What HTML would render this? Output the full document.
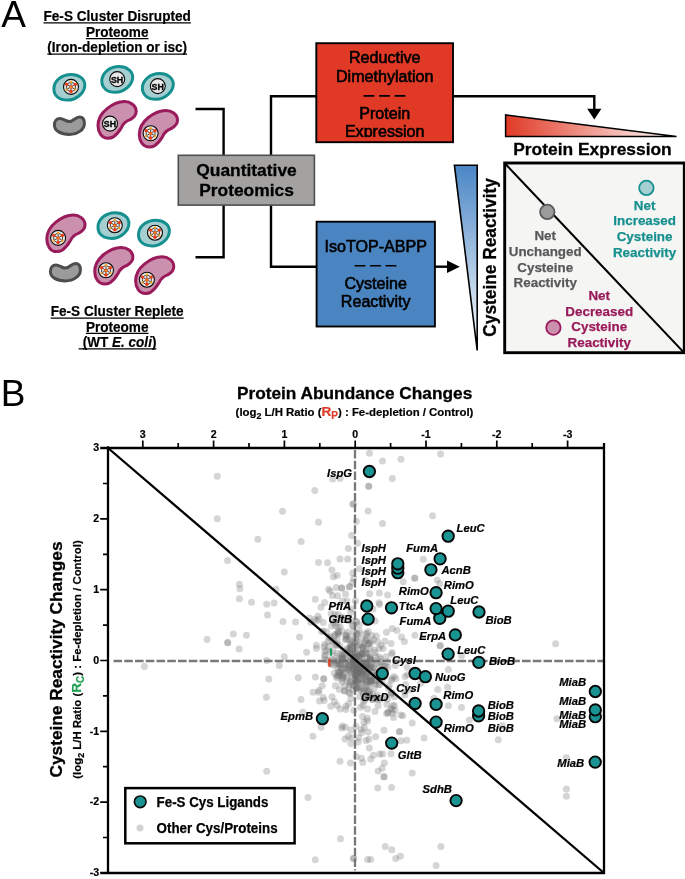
<!DOCTYPE html>
<html><head><meta charset="utf-8"><title>Figure</title>
<style>html,body{margin:0;padding:0;background:#fff}svg{display:block}</style></head>
<body>
<svg width="685" height="879" viewBox="0 0 685 879" font-family="'Liberation Sans', Arial, Helvetica, sans-serif">
<defs>
<linearGradient id="gr" x1="0" y1="0" x2="1" y2="0"><stop offset="0" stop-color="#e03a26"/><stop offset="1" stop-color="#ffffff"/></linearGradient>
<linearGradient id="gb" x1="0" y1="0" x2="0" y2="1"><stop offset="0" stop-color="#4a86c5"/><stop offset="1" stop-color="#ffffff"/></linearGradient>
<g id="fes">
<circle r="7.5" fill="#e8e8e8" stroke="#0a0a0a" stroke-width="1.1"/>
<g stroke="#111" stroke-width="0.75" fill="none">
<path d="M0 -5 L4.4 -2.6 L4.4 2.6 L0 5.1 L-4.4 2.6 L-4.4 -2.6 Z"/>
<path d="M0 -5 L0 5.1 M4.4 -2.6 L-4.4 2.6 M-4.4 -2.6 L4.4 2.6"/>
</g>
<circle cx="-4.4" cy="-2.6" r="1.65" fill="#ee3b14"/><circle cx="4.4" cy="-2.6" r="1.65" fill="#ee3b14"/><circle cx="0" cy="4.6" r="1.75" fill="#ee3b14"/>
<circle cx="0" cy="-5" r="1.2" fill="#f6a21c"/><circle cx="-4.4" cy="2.8" r="1.15" fill="#f6a21c"/><circle cx="4.4" cy="2.8" r="1.15" fill="#f6a21c"/>
<circle cx="0" cy="0.2" r="1.75" fill="#f2561b"/><circle cx="0" cy="0.5" r="0.8" fill="#f6a21c"/>
</g>
<g id="sh">
<circle r="7.5" fill="#e8e8e8" stroke="#0a0a0a" stroke-width="1.1"/>
<text x="-0.1" y="3.5" font-size="8.9" font-weight="bold" text-anchor="middle" fill="#000" stroke="#000" stroke-width="0.3" textLength="12.3" lengthAdjust="spacingAndGlyphs">SH</text>
</g>
<path id="bean" d="M29.4 1.4 C35 1.4 41.1 5 41.1 11.3 C41.1 15 38.5 17.5 35 19.5 C30.5 21 28 23.5 26.4 27.2 C24.5 30.5 22.5 33.8 18.2 36.7 C16.5 37.7 14.5 38 12.8 38 C6.5 38 2.9 32 2.9 25.4 C2.9 18 7 12.5 12 8.5 C17 4.5 23 1.4 29.4 1.4 Z"/>
<path id="gbean" d="M7 3 C10.5 3 12.5 6.2 16.5 6.2 C20.5 6.2 22.5 1.5 26.5 1.5 C30 1.5 31.5 4.5 31.5 8 C31.5 14 25 19 16.5 19 C8 19 1.5 15.5 1.5 9.5 C1.5 5.5 3.8 3 7 3 Z"/>
<path id="egg" d="M18.8 1.5 C26.3 1.5 32.4 6 32.4 12 C32.4 20 24 27.2 15 27.2 C7 27.2 1.5 23 1.5 16 C1.5 8 9.2 1.5 18.8 1.5 Z"/>
</defs>
<rect width="685" height="879" fill="#fff"/>
<text x="1.3" y="26.7" font-size="37">A</text>
<text x="117.2" y="21.0" font-size="14.1" font-weight="bold" text-anchor="middle" stroke="#000" stroke-width="0.2" textLength="147.4" lengthAdjust="spacingAndGlyphs">Fe-S Cluster Disrupted</text>
<path d="M43.5 22.9 H190.9" stroke="#000" stroke-width="1.25"/>
<text x="117.2" y="36.5" font-size="14.1" font-weight="bold" text-anchor="middle" stroke="#000" stroke-width="0.2" textLength="62.6" lengthAdjust="spacingAndGlyphs">Proteome</text>
<path d="M85.9 38.5 H148.5" stroke="#000" stroke-width="1.25"/>
<text x="117.2" y="52.0" font-size="14.1" font-weight="bold" text-anchor="middle" stroke="#000" stroke-width="0.2" textLength="139.8" lengthAdjust="spacingAndGlyphs">(Iron-depletion or isc)</text>
<path d="M47.3 54.0 H187.1" stroke="#000" stroke-width="1.25"/>
<text x="117.2" y="316.1" font-size="14.1" font-weight="bold" text-anchor="middle" stroke="#000" stroke-width="0.2" textLength="133" lengthAdjust="spacingAndGlyphs">Fe-S Cluster Replete</text>
<path d="M50.7 318.1 H183.7" stroke="#000" stroke-width="1.25"/>
<text x="117.2" y="331.5" font-size="14.1" font-weight="bold" text-anchor="middle" stroke="#000" stroke-width="0.2" textLength="62.6" lengthAdjust="spacingAndGlyphs">Proteome</text>
<path d="M85.9 333.4 H148.5" stroke="#000" stroke-width="1.25"/>
<text x="119.60000000000001" y="346.9" font-size="14.1" font-weight="bold" text-anchor="middle" stroke="#000" stroke-width="0.2" textLength="73.6" lengthAdjust="spacingAndGlyphs">(WT <tspan font-style="italic">E. coli</tspan>)</text>
<path d="M82.8 348.9 H156.4" stroke="#000" stroke-width="1.25"/>
<path d="M78.6 348.85 H84" stroke="#000" stroke-width="1.25"/>
<use href="#egg" x="52.4" y="72.9" fill="#a6cfd1" stroke="#16908f" stroke-width="3"/>
<use href="#fes" x="71.0" y="86.9"/>
<use href="#egg" x="100.3" y="65.1" fill="#a6cfd1" stroke="#16908f" stroke-width="3"/>
<use href="#sh" x="117.19999999999999" y="79.1"/>
<use href="#egg" x="140.9" y="72.1" fill="#a6cfd1" stroke="#16908f" stroke-width="3"/>
<use href="#sh" x="157.8" y="86.1"/>
<use href="#gbean" x="52.9" y="115.4" fill="#9b9b9b" stroke="#4d4d4d" stroke-width="3"/>
<use href="#bean" x="95.1" y="100.2" fill="#cc90af" stroke="#9a1b5b" stroke-width="3"/>
<use href="#sh" x="110.0" y="123.6"/>
<use href="#bean" x="136.4" y="109" fill="#cc90af" stroke="#9a1b5b" stroke-width="3"/>
<use href="#fes" x="150.6" y="133.3"/>
<use href="#bean" x="43.9" y="213.6" fill="#cc90af" stroke="#9a1b5b" stroke-width="3"/>
<use href="#fes" x="58.099999999999994" y="237.9"/>
<use href="#egg" x="96.5" y="211.2" fill="#a6cfd1" stroke="#16908f" stroke-width="3"/>
<use href="#fes" x="114.8" y="225.2"/>
<use href="#egg" x="137" y="218.7" fill="#a6cfd1" stroke="#16908f" stroke-width="3"/>
<use href="#fes" x="155" y="232.7"/>
<use href="#gbean" x="48.9" y="261.9" fill="#9b9b9b" stroke="#4d4d4d" stroke-width="3"/>
<use href="#bean" x="91.8" y="246" fill="#cc90af" stroke="#9a1b5b" stroke-width="3"/>
<use href="#fes" x="106.0" y="270.3"/>
<use href="#bean" x="132.7" y="255.4" fill="#cc90af" stroke="#9a1b5b" stroke-width="3"/>
<use href="#fes" x="146.89999999999998" y="279.7"/>
<g fill="none" stroke="#000" stroke-width="2.4">
<path d="M195.5 109 H223.6 V155 M223.6 205 V257.2 H195.5"/>
<path d="M316 96.2 H271 V155 M271 205 V266.7 H316.5"/>
<path d="M453 96.2 H594.3 V110"/>
<path d="M435 266.7 H448"/>
</g>
<path d="M587.2 108.8 H601.4 L594.3 119.6 Z" fill="#000"/>
<path d="M447 260.5 L459.8 266.7 L447 272.9 Z" fill="#000"/>
<rect x="178.3" y="155.3" width="136.1" height="49.8" fill="#a3a2a1" stroke="#4f4f4f" stroke-width="1.6"/>
<text x="246.5" y="175.6" font-size="17.4" font-weight="bold" text-anchor="middle" fill="#000" stroke="#000" stroke-width="0.3">Quantitative</text>
<text x="246.5" y="196.3" font-size="17.4" font-weight="bold" text-anchor="middle" fill="#000" stroke="#000" stroke-width="0.3">Proteomics</text>
<rect x="316.3" y="43.2" width="136.7" height="99" fill="#e03a26" stroke="#000" stroke-width="1.9"/>
<text x="384.7" y="63.2" font-size="16.1" text-anchor="middle" fill="#000" stroke="#000" stroke-width="0.6">Reductive</text>
<text x="384.7" y="81.6" font-size="16.1" text-anchor="middle" fill="#000" stroke="#000" stroke-width="0.6">Dimethylation</text>
<text x="384.7" y="119" font-size="16.1" text-anchor="middle" fill="#000" stroke="#000" stroke-width="0.6">Protein</text>
<text x="384.7" y="136.6" font-size="16.1" text-anchor="middle" fill="#000" stroke="#000" stroke-width="0.6">Expression</text>
<path d="M363.6 95.9 H374.4 M379.1 95.9 H389.9 M394.6 95.9 H405.4" stroke="#000" stroke-width="1.6"/>
<rect x="330" y="137.3" width="110" height="3.6" fill="#e03a26"/>
<rect x="316.6" y="221.7" width="118.3" height="104.8" fill="#4b85c1" stroke="#000" stroke-width="1.9"/>
<text x="375.7" y="251.8" font-size="16.1" text-anchor="middle" fill="#000" stroke="#000" stroke-width="0.6">IsoTOP-ABPP</text>
<text x="375.7" y="288.6" font-size="16.1" text-anchor="middle" fill="#000" stroke="#000" stroke-width="0.6">Cysteine</text>
<text x="375.7" y="307.2" font-size="16.1" text-anchor="middle" fill="#000" stroke="#000" stroke-width="0.6">Reactivity</text>
<path d="M354.6 265.8 H365.4 M370.1 265.8 H380.9 M385.6 265.8 H396.4" stroke="#000" stroke-width="1.6"/>
<path d="M505.6 114.9 V136.4 H676.5 Z" fill="url(#gr)" stroke="#000" stroke-width="1.5"/>
<path d="M454.4 165.2 H477.2 V350.5 Z" fill="url(#gb)" stroke="#000" stroke-width="1.6" stroke-linejoin="miter"/>
<text x="592.5" y="155.1" font-size="17.4" font-weight="bold" text-anchor="middle" fill="#000" stroke="#000" stroke-width="0.3">Protein Expression</text>
<text transform="translate(496.3 257.4) rotate(-90)" font-size="19" font-weight="bold" text-anchor="middle" fill="#000" stroke="#000" stroke-width="0.3" textLength="158.5" lengthAdjust="spacingAndGlyphs">Cysteine Reactivity</text>
<rect x="504.7" y="163" width="179.6" height="189.7" fill="#f5f5f3" stroke="#000" stroke-width="2.9"/>
<path d="M505 163.5 L684 352.6" stroke="#000" stroke-width="2.1"/>
<circle cx="547.3" cy="211.9" r="7.2" fill="#9b9b9b" stroke="#5a5a5a" stroke-width="1.8"/>
<circle cx="646.4" cy="187.9" r="7.2" fill="#a6cfd1" stroke="#16908f" stroke-width="1.8"/>
<circle cx="553.4" cy="327.6" r="7.2" fill="#cc90af" stroke="#9a1b5b" stroke-width="1.8"/>
<text x="545.2" y="240.1" font-size="13.4" font-weight="bold" text-anchor="middle" fill="#595959" stroke="#595959" stroke-width="0.25">Net</text>
<text x="545.2" y="255.8" font-size="13.4" font-weight="bold" text-anchor="middle" fill="#595959" stroke="#595959" stroke-width="0.25">Unchanged</text>
<text x="545.2" y="271.6" font-size="13.4" font-weight="bold" text-anchor="middle" fill="#595959" stroke="#595959" stroke-width="0.25">Cysteine</text>
<text x="545.2" y="287.3" font-size="13.4" font-weight="bold" text-anchor="middle" fill="#595959" stroke="#595959" stroke-width="0.25">Reactivity</text>
<text x="644.6" y="209.7" font-size="13.4" font-weight="bold" text-anchor="middle" fill="#16908f" stroke="#16908f" stroke-width="0.25">Net</text>
<text x="644.6" y="225.4" font-size="13.4" font-weight="bold" text-anchor="middle" fill="#16908f" stroke="#16908f" stroke-width="0.25">Increased</text>
<text x="644.6" y="241.2" font-size="13.4" font-weight="bold" text-anchor="middle" fill="#16908f" stroke="#16908f" stroke-width="0.25">Cysteine</text>
<text x="644.6" y="256.9" font-size="13.4" font-weight="bold" text-anchor="middle" fill="#16908f" stroke="#16908f" stroke-width="0.25">Reactivity</text>
<text x="599.2" y="299.9" font-size="13.4" font-weight="bold" text-anchor="middle" fill="#9a1b5b" stroke="#9a1b5b" stroke-width="0.25">Net</text>
<text x="599.2" y="315.6" font-size="13.4" font-weight="bold" text-anchor="middle" fill="#9a1b5b" stroke="#9a1b5b" stroke-width="0.25">Decreased</text>
<text x="599.2" y="331.4" font-size="13.4" font-weight="bold" text-anchor="middle" fill="#9a1b5b" stroke="#9a1b5b" stroke-width="0.25">Cysteine</text>
<text x="599.2" y="347.1" font-size="13.4" font-weight="bold" text-anchor="middle" fill="#9a1b5b" stroke="#9a1b5b" stroke-width="0.25">Reactivity</text>
<text x="0.8" y="406.2" font-size="37">B</text>
<text x="354.6" y="398.8" font-size="17.27" font-weight="bold" text-anchor="middle" fill="#000" stroke="#000" stroke-width="0.3">Protein Abundance Changes</text>
<text x="354.5" y="416.1" font-size="11.4" font-weight="bold" text-anchor="middle" fill="#000" stroke-width="0.2" stroke="#000">(log<tspan font-size="8.8" dy="3">2</tspan><tspan dy="-3"> L/H Ratio (</tspan><tspan font-size="13.6" fill="#e03a26" stroke="#e03a26">R</tspan><tspan font-size="10" fill="#e03a26" stroke="#e03a26" dy="3.3">P</tspan><tspan dy="-3.3">) : Fe-depletion / Control)</tspan></text>
<text transform="translate(61.8 659.5) rotate(-90)" font-size="17.27" font-weight="bold" text-anchor="middle" fill="#000" stroke="#000" stroke-width="0.3">Cysteine Reactivity Changes</text>
<text transform="translate(80.7 659.5) rotate(-90)" font-size="11.4" font-weight="bold" text-anchor="middle" fill="#000" stroke-width="0.2" stroke="#000">(log<tspan font-size="8.8" dy="3">2</tspan><tspan dy="-3"> L/H Ratio (</tspan><tspan font-size="13.6" fill="#1e9e50" stroke="#1e9e50">R</tspan><tspan font-size="10" fill="#1e9e50" stroke="#1e9e50" dy="3.3">C</tspan><tspan dy="-3.3">) : Fe-depletion / Control)</tspan></text>
<path d="M113.5 661 H604" stroke="#787878" stroke-width="2.3" stroke-dasharray="8.6 2.15" fill="none"/>
<path d="M355 450 V870.5" stroke="#787878" stroke-width="2.3" stroke-dasharray="8.6 2.15" fill="none"/>
<g fill="#6e6e6e" fill-opacity="0.29">
<circle cx="369.4" cy="453.2" r="3.5"/>
<circle cx="382.5" cy="461.0" r="3.5"/>
<circle cx="401.0" cy="459.2" r="3.5"/>
<circle cx="440.6" cy="453.9" r="3.5"/>
<circle cx="392.3" cy="478.4" r="3.5"/>
<circle cx="368.6" cy="486.0" r="3.5"/>
<circle cx="368.9" cy="486.5" r="3.5"/>
<circle cx="353.1" cy="503.9" r="3.5"/>
<circle cx="353.0" cy="504.3" r="3.5"/>
<circle cx="368.1" cy="511.0" r="3.5"/>
<circle cx="382.5" cy="523.6" r="3.5"/>
<circle cx="432.5" cy="515.7" r="3.5"/>
<circle cx="356.3" cy="521.5" r="3.5"/>
<circle cx="351.5" cy="535.4" r="3.5"/>
<circle cx="357.6" cy="543.3" r="3.5"/>
<circle cx="348.4" cy="548.5" r="3.5"/>
<circle cx="340.0" cy="559.0" r="3.5"/>
<circle cx="423.3" cy="559.3" r="3.5"/>
<circle cx="414.6" cy="578.2" r="3.5"/>
<circle cx="414.9" cy="578.0" r="3.5"/>
<circle cx="437.2" cy="580.0" r="3.5"/>
<circle cx="332.6" cy="478.9" r="3.5"/>
<circle cx="340.0" cy="478.4" r="3.5"/>
<circle cx="555.6" cy="643.7" r="3.5"/>
<circle cx="440.0" cy="645.8" r="3.5"/>
<circle cx="440.3" cy="645.5" r="3.5"/>
<circle cx="461.5" cy="655.8" r="3.5"/>
<circle cx="448.4" cy="669.4" r="3.5"/>
<circle cx="447.6" cy="687.3" r="3.5"/>
<circle cx="433.9" cy="698.3" r="3.5"/>
<circle cx="448.4" cy="705.7" r="3.5"/>
<circle cx="461.5" cy="707.5" r="3.5"/>
<circle cx="469.4" cy="720.1" r="3.5"/>
<circle cx="498.3" cy="739.8" r="3.5"/>
<circle cx="502.3" cy="725.4" r="3.5"/>
<circle cx="556.9" cy="718.8" r="3.5"/>
<circle cx="566.4" cy="757.7" r="3.5"/>
<circle cx="566.4" cy="789.0" r="3.5"/>
<circle cx="566.4" cy="796.2" r="3.5"/>
<circle cx="340.0" cy="761.2" r="3.5"/>
<circle cx="350.5" cy="763.1" r="3.5"/>
<circle cx="361.5" cy="758.3" r="3.5"/>
<circle cx="362.8" cy="762.5" r="3.5"/>
<circle cx="370.7" cy="759.1" r="3.5"/>
<circle cx="373.4" cy="755.2" r="3.5"/>
<circle cx="382.5" cy="753.9" r="3.5"/>
<circle cx="384.4" cy="763.1" r="3.5"/>
<circle cx="378.1" cy="770.9" r="3.5"/>
<circle cx="382.0" cy="768.3" r="3.5"/>
<circle cx="383.9" cy="777.0" r="3.5"/>
<circle cx="384.1" cy="776.6" r="3.5"/>
<circle cx="412.2" cy="773.0" r="3.5"/>
<circle cx="377.8" cy="788.0" r="3.5"/>
<circle cx="391.5" cy="787.5" r="3.5"/>
<circle cx="424.1" cy="738.1" r="3.5"/>
<circle cx="406.7" cy="740.2" r="3.5"/>
<circle cx="401.0" cy="740.7" r="3.5"/>
<circle cx="399.6" cy="731.5" r="3.5"/>
<circle cx="399.3" cy="731.8" r="3.5"/>
<circle cx="340.5" cy="838.7" r="3.5"/>
<circle cx="385.2" cy="846.6" r="3.5"/>
<circle cx="391.7" cy="849.8" r="3.5"/>
<circle cx="440.9" cy="846.6" r="3.5"/>
<circle cx="400.4" cy="856.3" r="3.5"/>
<circle cx="395.7" cy="858.4" r="3.5"/>
<circle cx="353.6" cy="858.4" r="3.5"/>
<circle cx="353.4" cy="858.6" r="3.5"/>
<circle cx="367.6" cy="859.5" r="3.5"/>
<circle cx="370.7" cy="859.5" r="3.5"/>
<circle cx="436.1" cy="865.5" r="3.5"/>
<circle cx="217.3" cy="476.3" r="3.5"/>
<circle cx="217.3" cy="518.8" r="3.5"/>
<circle cx="282.5" cy="511.2" r="3.5"/>
<circle cx="314.8" cy="490.5" r="3.5"/>
<circle cx="318.5" cy="522.3" r="3.5"/>
<circle cx="257.8" cy="539.3" r="3.5"/>
<circle cx="301.1" cy="541.4" r="3.5"/>
<circle cx="227.6" cy="560.6" r="3.5"/>
<circle cx="284.3" cy="571.9" r="3.5"/>
<circle cx="318.5" cy="562.5" r="3.5"/>
<circle cx="331.9" cy="570.1" r="3.5"/>
<circle cx="337.1" cy="575.6" r="3.5"/>
<circle cx="347.6" cy="559.0" r="3.5"/>
<circle cx="239.4" cy="584.3" r="3.5"/>
<circle cx="239.9" cy="588.7" r="3.5"/>
<circle cx="239.4" cy="598.7" r="3.5"/>
<circle cx="275.9" cy="589.3" r="3.5"/>
<circle cx="328.5" cy="589.3" r="3.5"/>
<circle cx="336.3" cy="587.4" r="3.5"/>
<circle cx="341.6" cy="587.9" r="3.5"/>
<circle cx="341.8" cy="588.1" r="3.5"/>
<circle cx="349.5" cy="586.6" r="3.5"/>
<circle cx="349.3" cy="586.9" r="3.5"/>
<circle cx="337.6" cy="595.8" r="3.5"/>
<circle cx="345.5" cy="594.0" r="3.5"/>
<circle cx="315.3" cy="599.2" r="3.5"/>
<circle cx="251.5" cy="602.3" r="3.5"/>
<circle cx="266.7" cy="604.2" r="3.5"/>
<circle cx="274.1" cy="602.9" r="3.5"/>
<circle cx="267.5" cy="614.9" r="3.5"/>
<circle cx="283.0" cy="621.5" r="3.5"/>
<circle cx="295.6" cy="622.0" r="3.5"/>
<circle cx="207.1" cy="639.4" r="3.5"/>
<circle cx="227.6" cy="642.5" r="3.5"/>
<circle cx="227.8" cy="642.8" r="3.5"/>
<circle cx="233.3" cy="633.9" r="3.5"/>
<circle cx="246.5" cy="635.2" r="3.5"/>
<circle cx="239.1" cy="649.1" r="3.5"/>
<circle cx="299.5" cy="637.0" r="3.5"/>
<circle cx="266.7" cy="660.5" r="3.5"/>
<circle cx="279.3" cy="665.4" r="3.5"/>
<circle cx="284.3" cy="656.7" r="3.5"/>
<circle cx="268.8" cy="679.1" r="3.5"/>
<circle cx="298.2" cy="677.7" r="3.5"/>
<circle cx="266.4" cy="697.2" r="3.5"/>
<circle cx="144.4" cy="666.4" r="3.5"/>
<circle cx="312.9" cy="736.3" r="3.5"/>
<circle cx="266.7" cy="771.2" r="3.5"/>
<circle cx="308.0" cy="797.5" r="3.5"/>
<circle cx="315.3" cy="859.8" r="3.5"/>
<circle cx="345.0" cy="738.9" r="3.5"/>
<circle cx="348.2" cy="736.6" r="3.5"/>
<circle cx="350.8" cy="730.0" r="3.5"/>
<circle cx="350.8" cy="743.6" r="3.5"/>
<circle cx="356.0" cy="726.6" r="3.5"/>
<circle cx="353.8" cy="667.8" r="3.5"/>
<circle cx="354.1" cy="656.6" r="3.5"/>
<circle cx="347.4" cy="653.1" r="3.5"/>
<circle cx="366.8" cy="676.1" r="3.5"/>
<circle cx="366.1" cy="673.2" r="3.5"/>
<circle cx="360.0" cy="667.8" r="3.5"/>
<circle cx="340.4" cy="662.7" r="3.5"/>
<circle cx="361.0" cy="672.9" r="3.5"/>
<circle cx="340.1" cy="626.6" r="3.5"/>
<circle cx="347.7" cy="649.8" r="3.5"/>
<circle cx="359.1" cy="664.0" r="3.5"/>
<circle cx="361.1" cy="657.2" r="3.5"/>
<circle cx="359.1" cy="670.1" r="3.5"/>
<circle cx="349.9" cy="681.7" r="3.5"/>
<circle cx="361.5" cy="683.0" r="3.5"/>
<circle cx="350.3" cy="647.9" r="3.5"/>
<circle cx="352.9" cy="658.6" r="3.5"/>
<circle cx="362.2" cy="670.3" r="3.5"/>
<circle cx="352.0" cy="646.1" r="3.5"/>
<circle cx="351.3" cy="675.8" r="3.5"/>
<circle cx="348.5" cy="660.3" r="3.5"/>
<circle cx="360.3" cy="644.9" r="3.5"/>
<circle cx="356.7" cy="680.9" r="3.5"/>
<circle cx="337.1" cy="644.0" r="3.5"/>
<circle cx="355.2" cy="650.4" r="3.5"/>
<circle cx="360.9" cy="665.1" r="3.5"/>
<circle cx="342.3" cy="663.7" r="3.5"/>
<circle cx="362.6" cy="680.3" r="3.5"/>
<circle cx="369.9" cy="677.6" r="3.5"/>
<circle cx="357.3" cy="645.3" r="3.5"/>
<circle cx="362.0" cy="658.3" r="3.5"/>
<circle cx="351.9" cy="641.8" r="3.5"/>
<circle cx="347.0" cy="648.4" r="3.5"/>
<circle cx="368.4" cy="643.4" r="3.5"/>
<circle cx="342.4" cy="655.6" r="3.5"/>
<circle cx="369.9" cy="680.6" r="3.5"/>
<circle cx="338.2" cy="614.4" r="3.5"/>
<circle cx="359.6" cy="654.8" r="3.5"/>
<circle cx="345.6" cy="668.2" r="3.5"/>
<circle cx="366.7" cy="672.4" r="3.5"/>
<circle cx="358.5" cy="670.2" r="3.5"/>
<circle cx="371.3" cy="682.2" r="3.5"/>
<circle cx="361.1" cy="673.7" r="3.5"/>
<circle cx="341.3" cy="669.3" r="3.5"/>
<circle cx="365.3" cy="676.5" r="3.5"/>
<circle cx="337.4" cy="640.0" r="3.5"/>
<circle cx="364.2" cy="643.3" r="3.5"/>
<circle cx="354.5" cy="675.3" r="3.5"/>
<circle cx="343.7" cy="675.6" r="3.5"/>
<circle cx="361.4" cy="664.3" r="3.5"/>
<circle cx="359.3" cy="673.8" r="3.5"/>
<circle cx="357.3" cy="679.2" r="3.5"/>
<circle cx="349.9" cy="652.1" r="3.5"/>
<circle cx="366.1" cy="670.1" r="3.5"/>
<circle cx="347.8" cy="669.5" r="3.5"/>
<circle cx="370.1" cy="666.6" r="3.5"/>
<circle cx="343.1" cy="651.0" r="3.5"/>
<circle cx="354.8" cy="657.3" r="3.5"/>
<circle cx="369.5" cy="658.1" r="3.5"/>
<circle cx="368.2" cy="653.7" r="3.5"/>
<circle cx="348.7" cy="665.8" r="3.5"/>
<circle cx="366.9" cy="682.3" r="3.5"/>
<circle cx="359.5" cy="666.9" r="3.5"/>
<circle cx="357.6" cy="671.5" r="3.5"/>
<circle cx="354.5" cy="665.1" r="3.5"/>
<circle cx="361.6" cy="666.5" r="3.5"/>
<circle cx="363.5" cy="675.7" r="3.5"/>
<circle cx="375.3" cy="681.0" r="3.5"/>
<circle cx="352.1" cy="654.4" r="3.5"/>
<circle cx="356.1" cy="675.2" r="3.5"/>
<circle cx="353.0" cy="665.5" r="3.5"/>
<circle cx="373.7" cy="639.8" r="3.5"/>
<circle cx="345.5" cy="658.0" r="3.5"/>
<circle cx="360.0" cy="668.6" r="3.5"/>
<circle cx="352.1" cy="668.6" r="3.5"/>
<circle cx="358.9" cy="657.2" r="3.5"/>
<circle cx="379.3" cy="684.4" r="3.5"/>
<circle cx="350.9" cy="657.3" r="3.5"/>
<circle cx="354.1" cy="660.1" r="3.5"/>
<circle cx="330.3" cy="636.7" r="3.5"/>
<circle cx="365.8" cy="653.4" r="3.5"/>
<circle cx="355.6" cy="675.2" r="3.5"/>
<circle cx="364.3" cy="689.1" r="3.5"/>
<circle cx="340.0" cy="645.7" r="3.5"/>
<circle cx="353.0" cy="668.7" r="3.5"/>
<circle cx="366.6" cy="633.0" r="3.5"/>
<circle cx="366.5" cy="650.1" r="3.5"/>
<circle cx="362.7" cy="646.6" r="3.5"/>
<circle cx="357.9" cy="680.3" r="3.5"/>
<circle cx="354.8" cy="664.1" r="3.5"/>
<circle cx="363.8" cy="670.0" r="3.5"/>
<circle cx="355.4" cy="683.1" r="3.5"/>
<circle cx="366.2" cy="665.7" r="3.5"/>
<circle cx="382.3" cy="665.8" r="3.5"/>
<circle cx="364.9" cy="665.2" r="3.5"/>
<circle cx="357.5" cy="673.2" r="3.5"/>
<circle cx="358.3" cy="672.9" r="3.5"/>
<circle cx="341.7" cy="631.0" r="3.5"/>
<circle cx="362.0" cy="653.5" r="3.5"/>
<circle cx="346.4" cy="635.0" r="3.5"/>
<circle cx="368.2" cy="681.7" r="3.5"/>
<circle cx="370.2" cy="659.8" r="3.5"/>
<circle cx="356.2" cy="646.7" r="3.5"/>
<circle cx="363.5" cy="689.8" r="3.5"/>
<circle cx="347.7" cy="677.9" r="3.5"/>
<circle cx="365.6" cy="666.9" r="3.5"/>
<circle cx="337.5" cy="668.2" r="3.5"/>
<circle cx="355.3" cy="653.5" r="3.5"/>
<circle cx="360.0" cy="671.0" r="3.5"/>
<circle cx="370.4" cy="658.8" r="3.5"/>
<circle cx="367.0" cy="691.0" r="3.5"/>
<circle cx="370.0" cy="670.1" r="3.5"/>
<circle cx="349.1" cy="671.4" r="3.5"/>
<circle cx="357.3" cy="665.0" r="3.5"/>
<circle cx="369.7" cy="668.8" r="3.5"/>
<circle cx="334.4" cy="641.1" r="3.5"/>
<circle cx="338.6" cy="660.9" r="3.5"/>
<circle cx="359.2" cy="656.3" r="3.5"/>
<circle cx="356.1" cy="674.0" r="3.5"/>
<circle cx="356.9" cy="681.4" r="3.5"/>
<circle cx="355.6" cy="676.5" r="3.5"/>
<circle cx="370.4" cy="695.2" r="3.5"/>
<circle cx="349.8" cy="670.0" r="3.5"/>
<circle cx="338.4" cy="634.4" r="3.5"/>
<circle cx="337.6" cy="663.6" r="3.5"/>
<circle cx="344.5" cy="653.7" r="3.5"/>
<circle cx="354.4" cy="660.8" r="3.5"/>
<circle cx="350.6" cy="661.6" r="3.5"/>
<circle cx="373.2" cy="675.6" r="3.5"/>
<circle cx="361.2" cy="680.1" r="3.5"/>
<circle cx="352.0" cy="625.4" r="3.5"/>
<circle cx="344.5" cy="691.1" r="3.5"/>
<circle cx="321.6" cy="631.5" r="3.5"/>
<circle cx="377.4" cy="697.3" r="3.5"/>
<circle cx="356.4" cy="688.4" r="3.5"/>
<circle cx="359.7" cy="631.2" r="3.5"/>
<circle cx="323.4" cy="631.1" r="3.5"/>
<circle cx="375.6" cy="656.4" r="3.5"/>
<circle cx="337.3" cy="633.3" r="3.5"/>
<circle cx="324.0" cy="646.8" r="3.5"/>
<circle cx="331.4" cy="664.3" r="3.5"/>
<circle cx="306.6" cy="652.2" r="3.5"/>
<circle cx="342.7" cy="601.1" r="3.5"/>
<circle cx="371.4" cy="663.1" r="3.5"/>
<circle cx="309.4" cy="617.9" r="3.5"/>
<circle cx="362.3" cy="653.6" r="3.5"/>
<circle cx="372.6" cy="693.9" r="3.5"/>
<circle cx="370.2" cy="680.4" r="3.5"/>
<circle cx="384.2" cy="696.4" r="3.5"/>
<circle cx="365.7" cy="607.1" r="3.5"/>
<circle cx="375.0" cy="711.6" r="3.5"/>
<circle cx="350.0" cy="647.9" r="3.5"/>
<circle cx="396.9" cy="630.6" r="3.5"/>
<circle cx="366.0" cy="740.5" r="3.5"/>
<circle cx="336.7" cy="676.3" r="3.5"/>
<circle cx="395.8" cy="678.5" r="3.5"/>
<circle cx="368.0" cy="696.4" r="3.5"/>
<circle cx="337.2" cy="653.4" r="3.5"/>
<circle cx="362.3" cy="691.6" r="3.5"/>
<circle cx="355.5" cy="658.4" r="3.5"/>
<circle cx="334.9" cy="644.4" r="3.5"/>
<circle cx="374.9" cy="675.8" r="3.5"/>
<circle cx="338.3" cy="631.7" r="3.5"/>
<circle cx="412.2" cy="723.0" r="3.5"/>
<circle cx="369.6" cy="593.7" r="3.5"/>
<circle cx="369.3" cy="684.5" r="3.5"/>
<circle cx="391.6" cy="692.8" r="3.5"/>
<circle cx="354.8" cy="679.3" r="3.5"/>
<circle cx="315.4" cy="677.0" r="3.5"/>
<circle cx="363.0" cy="646.8" r="3.5"/>
<circle cx="384.0" cy="730.3" r="3.5"/>
<circle cx="326.7" cy="631.8" r="3.5"/>
<circle cx="362.3" cy="672.6" r="3.5"/>
<circle cx="347.8" cy="632.0" r="3.5"/>
<circle cx="400.7" cy="714.9" r="3.5"/>
<circle cx="331.1" cy="613.6" r="3.5"/>
<circle cx="392.0" cy="709.6" r="3.5"/>
<circle cx="394.4" cy="705.4" r="3.5"/>
<circle cx="337.9" cy="664.1" r="3.5"/>
<circle cx="310.8" cy="622.3" r="3.5"/>
<circle cx="355.0" cy="679.4" r="3.5"/>
<circle cx="340.9" cy="654.1" r="3.5"/>
<circle cx="365.8" cy="679.9" r="3.5"/>
<circle cx="369.6" cy="676.6" r="3.5"/>
<circle cx="349.4" cy="684.8" r="3.5"/>
<circle cx="357.2" cy="640.5" r="3.5"/>
<circle cx="343.1" cy="658.7" r="3.5"/>
<circle cx="353.9" cy="668.1" r="3.5"/>
<circle cx="356.2" cy="669.7" r="3.5"/>
<circle cx="353.4" cy="626.0" r="3.5"/>
<circle cx="365.0" cy="699.6" r="3.5"/>
<circle cx="365.3" cy="662.9" r="3.5"/>
<circle cx="365.6" cy="640.1" r="3.5"/>
<circle cx="316.4" cy="648.6" r="3.5"/>
<circle cx="336.7" cy="677.7" r="3.5"/>
<circle cx="333.4" cy="576.7" r="3.5"/>
<circle cx="334.4" cy="701.5" r="3.5"/>
<circle cx="348.2" cy="620.5" r="3.5"/>
<circle cx="340.2" cy="672.8" r="3.5"/>
<circle cx="366.6" cy="674.3" r="3.5"/>
<circle cx="387.4" cy="699.2" r="3.5"/>
<circle cx="355.8" cy="681.9" r="3.5"/>
<circle cx="390.9" cy="708.6" r="3.5"/>
<circle cx="377.7" cy="642.0" r="3.5"/>
<circle cx="353.1" cy="684.7" r="3.5"/>
<circle cx="350.0" cy="693.4" r="3.5"/>
<circle cx="368.7" cy="696.9" r="3.5"/>
<circle cx="351.7" cy="737.8" r="3.5"/>
<circle cx="382.2" cy="669.7" r="3.5"/>
<circle cx="358.1" cy="742.1" r="3.5"/>
<circle cx="349.0" cy="687.2" r="3.5"/>
<circle cx="376.8" cy="673.8" r="3.5"/>
<circle cx="331.7" cy="659.2" r="3.5"/>
<circle cx="363.7" cy="701.2" r="3.5"/>
<circle cx="372.6" cy="672.5" r="3.5"/>
<circle cx="374.1" cy="688.4" r="3.5"/>
<circle cx="360.5" cy="668.0" r="3.5"/>
<circle cx="351.1" cy="682.5" r="3.5"/>
<circle cx="334.1" cy="636.1" r="3.5"/>
<circle cx="356.3" cy="621.3" r="3.5"/>
<circle cx="347.0" cy="601.0" r="3.5"/>
<circle cx="341.9" cy="675.0" r="3.5"/>
<circle cx="368.1" cy="668.2" r="3.5"/>
<circle cx="351.3" cy="620.4" r="3.5"/>
<circle cx="394.6" cy="696.8" r="3.5"/>
<circle cx="379.2" cy="648.6" r="3.5"/>
<circle cx="352.3" cy="609.0" r="3.5"/>
<circle cx="372.6" cy="699.4" r="3.5"/>
<circle cx="316.4" cy="645.3" r="3.5"/>
<circle cx="369.4" cy="618.3" r="3.5"/>
<circle cx="317.9" cy="616.0" r="3.5"/>
<circle cx="343.0" cy="617.2" r="3.5"/>
<circle cx="356.9" cy="672.2" r="3.5"/>
<circle cx="369.5" cy="691.2" r="3.5"/>
<circle cx="387.8" cy="712.9" r="3.5"/>
<circle cx="328.7" cy="637.4" r="3.5"/>
<circle cx="333.9" cy="622.8" r="3.5"/>
<circle cx="354.5" cy="663.9" r="3.5"/>
<circle cx="366.5" cy="622.1" r="3.5"/>
<circle cx="330.2" cy="652.3" r="3.5"/>
<circle cx="352.0" cy="653.4" r="3.5"/>
<circle cx="354.9" cy="641.4" r="3.5"/>
<circle cx="370.9" cy="681.5" r="3.5"/>
<circle cx="354.4" cy="643.8" r="3.5"/>
<circle cx="352.5" cy="582.4" r="3.5"/>
<circle cx="335.6" cy="656.5" r="3.5"/>
<circle cx="324.6" cy="656.4" r="3.5"/>
<circle cx="359.3" cy="625.1" r="3.5"/>
<circle cx="350.9" cy="652.9" r="3.5"/>
<circle cx="365.9" cy="686.9" r="3.5"/>
<circle cx="355.4" cy="639.0" r="3.5"/>
<circle cx="353.2" cy="661.2" r="3.5"/>
<circle cx="371.6" cy="680.0" r="3.5"/>
<circle cx="341.0" cy="617.7" r="3.5"/>
<circle cx="348.4" cy="639.1" r="3.5"/>
<circle cx="332.9" cy="650.7" r="3.5"/>
<circle cx="345.9" cy="663.1" r="3.5"/>
<circle cx="367.2" cy="657.2" r="3.5"/>
<circle cx="405.0" cy="676.6" r="3.5"/>
<circle cx="379.3" cy="678.3" r="3.5"/>
<circle cx="379.6" cy="604.6" r="3.5"/>
<circle cx="340.4" cy="664.8" r="3.5"/>
<circle cx="368.9" cy="739.2" r="3.5"/>
<circle cx="363.0" cy="705.3" r="3.5"/>
<circle cx="372.3" cy="699.6" r="3.5"/>
<circle cx="366.9" cy="664.6" r="3.5"/>
<circle cx="366.9" cy="637.4" r="3.5"/>
<circle cx="381.0" cy="645.4" r="3.5"/>
<circle cx="361.4" cy="729.5" r="3.5"/>
<circle cx="351.5" cy="663.0" r="3.5"/>
<circle cx="380.6" cy="676.1" r="3.5"/>
<circle cx="339.2" cy="664.6" r="3.5"/>
<circle cx="368.4" cy="690.9" r="3.5"/>
<circle cx="340.0" cy="709.1" r="3.5"/>
<circle cx="391.2" cy="680.5" r="3.5"/>
<circle cx="361.8" cy="654.3" r="3.5"/>
<circle cx="385.9" cy="656.8" r="3.5"/>
<circle cx="370.4" cy="656.6" r="3.5"/>
<circle cx="341.6" cy="679.3" r="3.5"/>
<circle cx="384.2" cy="676.6" r="3.5"/>
<circle cx="342.0" cy="682.2" r="3.5"/>
<circle cx="355.2" cy="673.2" r="3.5"/>
<circle cx="388.2" cy="712.1" r="3.5"/>
<circle cx="345.3" cy="727.2" r="3.5"/>
<circle cx="356.3" cy="687.8" r="3.5"/>
<circle cx="342.6" cy="657.2" r="3.5"/>
<circle cx="319.5" cy="701.1" r="3.5"/>
<circle cx="384.9" cy="641.3" r="3.5"/>
<circle cx="324.6" cy="602.6" r="3.5"/>
<circle cx="380.9" cy="661.8" r="3.5"/>
<circle cx="354.9" cy="654.7" r="3.5"/>
<circle cx="353.7" cy="631.2" r="3.5"/>
<circle cx="356.7" cy="622.2" r="3.5"/>
<circle cx="354.7" cy="673.0" r="3.5"/>
<circle cx="366.0" cy="662.0" r="3.5"/>
<circle cx="337.2" cy="660.8" r="3.5"/>
<circle cx="346.0" cy="706.3" r="3.5"/>
<circle cx="372.3" cy="668.2" r="3.5"/>
<circle cx="346.3" cy="639.3" r="3.5"/>
<circle cx="336.5" cy="645.3" r="3.5"/>
<circle cx="362.4" cy="682.5" r="3.5"/>
<circle cx="368.1" cy="731.9" r="3.5"/>
<circle cx="341.4" cy="658.3" r="3.5"/>
<circle cx="414.9" cy="635.3" r="3.5"/>
<circle cx="345.2" cy="664.7" r="3.5"/>
<circle cx="359.4" cy="678.0" r="3.5"/>
<circle cx="351.2" cy="673.1" r="3.5"/>
<circle cx="357.3" cy="687.8" r="3.5"/>
<circle cx="316.5" cy="620.7" r="3.5"/>
<circle cx="356.2" cy="634.0" r="3.5"/>
<circle cx="334.3" cy="673.3" r="3.5"/>
<circle cx="342.6" cy="677.2" r="3.5"/>
<circle cx="371.9" cy="680.5" r="3.5"/>
<circle cx="366.9" cy="666.1" r="3.5"/>
<circle cx="326.6" cy="650.5" r="3.5"/>
<circle cx="365.7" cy="653.1" r="3.5"/>
<circle cx="354.1" cy="685.7" r="3.5"/>
<circle cx="337.8" cy="675.3" r="3.5"/>
<circle cx="395.3" cy="665.4" r="3.5"/>
<circle cx="359.3" cy="661.4" r="3.5"/>
<circle cx="388.5" cy="688.2" r="3.5"/>
<circle cx="375.1" cy="652.4" r="3.5"/>
<circle cx="355.9" cy="664.1" r="3.5"/>
<circle cx="318.9" cy="690.6" r="3.5"/>
<circle cx="375.1" cy="621.1" r="3.5"/>
<circle cx="371.8" cy="667.5" r="3.5"/>
<circle cx="365.6" cy="679.5" r="3.5"/>
<circle cx="324.7" cy="644.3" r="3.5"/>
<circle cx="387.5" cy="661.4" r="3.5"/>
<circle cx="334.7" cy="614.8" r="3.5"/>
<circle cx="330.6" cy="663.1" r="3.5"/>
<circle cx="391.7" cy="692.9" r="3.5"/>
<circle cx="361.4" cy="732.8" r="3.5"/>
<circle cx="345.3" cy="639.7" r="3.5"/>
<circle cx="367.3" cy="685.6" r="3.5"/>
<circle cx="334.9" cy="620.5" r="3.5"/>
<circle cx="362.3" cy="674.5" r="3.5"/>
<circle cx="328.8" cy="646.4" r="3.5"/>
<circle cx="344.8" cy="673.1" r="3.5"/>
<circle cx="353.7" cy="660.9" r="3.5"/>
<circle cx="348.8" cy="692.4" r="3.5"/>
<circle cx="385.4" cy="666.6" r="3.5"/>
<circle cx="374.0" cy="650.0" r="3.5"/>
<circle cx="357.7" cy="687.3" r="3.5"/>
<circle cx="388.0" cy="667.3" r="3.5"/>
<circle cx="354.6" cy="669.6" r="3.5"/>
<circle cx="324.7" cy="651.0" r="3.5"/>
<circle cx="342.0" cy="669.2" r="3.5"/>
<circle cx="332.5" cy="595.5" r="3.5"/>
<circle cx="357.0" cy="672.6" r="3.5"/>
<circle cx="344.7" cy="685.7" r="3.5"/>
<circle cx="350.5" cy="644.0" r="3.5"/>
<circle cx="366.2" cy="622.6" r="3.5"/>
<circle cx="342.0" cy="657.6" r="3.5"/>
<circle cx="374.0" cy="667.6" r="3.5"/>
<circle cx="362.7" cy="648.0" r="3.5"/>
<circle cx="362.5" cy="716.5" r="3.5"/>
<circle cx="341.8" cy="728.1" r="3.5"/>
<circle cx="342.7" cy="659.0" r="3.5"/>
<circle cx="359.8" cy="696.4" r="3.5"/>
<circle cx="330.2" cy="590.9" r="3.5"/>
<circle cx="368.9" cy="693.7" r="3.5"/>
<circle cx="369.3" cy="748.1" r="3.5"/>
<circle cx="360.5" cy="673.9" r="3.5"/>
<circle cx="375.7" cy="684.0" r="3.5"/>
<circle cx="391.1" cy="643.4" r="3.5"/>
<circle cx="373.3" cy="661.0" r="3.5"/>
<circle cx="375.6" cy="736.8" r="3.5"/>
<circle cx="356.1" cy="656.9" r="3.5"/>
<circle cx="345.7" cy="635.1" r="3.5"/>
<circle cx="343.0" cy="677.5" r="3.5"/>
<circle cx="357.0" cy="666.8" r="3.5"/>
<circle cx="352.6" cy="689.9" r="3.5"/>
<circle cx="366.6" cy="664.9" r="3.5"/>
<circle cx="370.2" cy="666.2" r="3.5"/>
<circle cx="332.0" cy="696.8" r="3.5"/>
<circle cx="366.0" cy="640.5" r="3.5"/>
<circle cx="378.9" cy="684.7" r="3.5"/>
<circle cx="323.3" cy="697.6" r="3.5"/>
<circle cx="363.2" cy="694.0" r="3.5"/>
<circle cx="360.4" cy="661.9" r="3.5"/>
<circle cx="323.7" cy="678.8" r="3.5"/>
<circle cx="356.8" cy="656.3" r="3.5"/>
<circle cx="363.6" cy="670.1" r="3.5"/>
<circle cx="370.4" cy="659.8" r="3.5"/>
<circle cx="355.4" cy="600.9" r="3.5"/>
<circle cx="347.3" cy="680.5" r="3.5"/>
<circle cx="384.3" cy="666.2" r="3.5"/>
<circle cx="353.7" cy="710.2" r="3.5"/>
<circle cx="348.5" cy="703.7" r="3.5"/>
<circle cx="420.6" cy="683.6" r="3.5"/>
<circle cx="404.4" cy="641.5" r="3.5"/>
<circle cx="367.7" cy="666.1" r="3.5"/>
<circle cx="364.3" cy="727.5" r="3.5"/>
<circle cx="446.2" cy="652.9" r="3.5"/>
<circle cx="339.5" cy="689.6" r="3.5"/>
<circle cx="322.2" cy="685.8" r="3.5"/>
<circle cx="380.8" cy="658.7" r="3.5"/>
<circle cx="379.3" cy="593.0" r="3.5"/>
<circle cx="387.6" cy="595.0" r="3.5"/>
<circle cx="335.1" cy="634.5" r="3.5"/>
<circle cx="345.8" cy="709.5" r="3.5"/>
<circle cx="363.1" cy="648.7" r="3.5"/>
<circle cx="379.8" cy="754.0" r="3.5"/>
<circle cx="360.4" cy="687.4" r="3.5"/>
<circle cx="404.8" cy="691.9" r="3.5"/>
<circle cx="439.7" cy="583.7" r="3.5"/>
<circle cx="358.8" cy="689.6" r="3.5"/>
<circle cx="395.0" cy="710.4" r="3.5"/>
<circle cx="350.4" cy="612.2" r="3.5"/>
<circle cx="363.9" cy="722.4" r="3.5"/>
<circle cx="321.0" cy="607.2" r="3.5"/>
<circle cx="359.3" cy="568.7" r="3.5"/>
<circle cx="350.8" cy="644.0" r="3.5"/>
<circle cx="376.4" cy="635.9" r="3.5"/>
<circle cx="328.4" cy="641.4" r="3.5"/>
<circle cx="358.4" cy="633.9" r="3.5"/>
<circle cx="360.6" cy="707.2" r="3.5"/>
<circle cx="332.0" cy="640.8" r="3.5"/>
<circle cx="334.1" cy="661.1" r="3.5"/>
<circle cx="379.0" cy="602.7" r="3.5"/>
<circle cx="376.9" cy="670.8" r="3.5"/>
<circle cx="403.2" cy="581.8" r="3.5"/>
<circle cx="389.3" cy="685.6" r="3.5"/>
<circle cx="377.3" cy="694.9" r="3.5"/>
<circle cx="407.1" cy="667.2" r="3.5"/>
<circle cx="391.6" cy="654.2" r="3.5"/>
<circle cx="386.4" cy="632.3" r="3.5"/>
<circle cx="356.3" cy="756.6" r="3.5"/>
<circle cx="376.2" cy="663.8" r="3.5"/>
<circle cx="319.0" cy="618.9" r="3.5"/>
<circle cx="367.2" cy="718.3" r="3.5"/>
<circle cx="375.5" cy="698.8" r="3.5"/>
<circle cx="358.7" cy="737.7" r="3.5"/>
<circle cx="346.1" cy="637.2" r="3.5"/>
<circle cx="392.2" cy="678.7" r="3.5"/>
<circle cx="350.2" cy="636.7" r="3.5"/>
<circle cx="351.0" cy="698.6" r="3.5"/>
<circle cx="372.9" cy="609.1" r="3.5"/>
<circle cx="375.5" cy="681.0" r="3.5"/>
<circle cx="324.2" cy="700.4" r="3.5"/>
<circle cx="350.1" cy="649.1" r="3.5"/>
<circle cx="388.8" cy="742.6" r="3.5"/>
<circle cx="335.4" cy="685.7" r="3.5"/>
<circle cx="342.4" cy="726.1" r="3.5"/>
<circle cx="336.9" cy="705.2" r="3.5"/>
<circle cx="344.6" cy="690.8" r="3.5"/>
<circle cx="356.9" cy="633.4" r="3.5"/>
<circle cx="437.7" cy="689.4" r="3.5"/>
<circle cx="301.0" cy="699.6" r="3.5"/>
<circle cx="339.4" cy="671.4" r="3.5"/>
<circle cx="405.6" cy="684.4" r="3.5"/>
<circle cx="402.8" cy="715.8" r="3.5"/>
<circle cx="330.8" cy="706.3" r="3.5"/>
<circle cx="378.1" cy="705.7" r="3.5"/>
<circle cx="392.6" cy="713.2" r="3.5"/>
<circle cx="366.3" cy="695.1" r="3.5"/>
<circle cx="348.3" cy="667.8" r="3.5"/>
<circle cx="392.1" cy="652.6" r="3.5"/>
<circle cx="401.5" cy="636.9" r="3.5"/>
<circle cx="369.8" cy="643.5" r="3.5"/>
<circle cx="365.9" cy="634.2" r="3.5"/>
<circle cx="302.7" cy="712.2" r="3.5"/>
<circle cx="371.1" cy="642.1" r="3.5"/>
<circle cx="367.4" cy="721.0" r="3.5"/>
<circle cx="325.0" cy="655.2" r="3.5"/>
<circle cx="379.6" cy="699.8" r="3.5"/>
<circle cx="404.9" cy="695.1" r="3.5"/>
<circle cx="360.7" cy="654.3" r="3.5"/>
<circle cx="369.7" cy="648.7" r="3.5"/>
<circle cx="323.3" cy="622.5" r="3.5"/>
<circle cx="338.7" cy="632.4" r="3.5"/>
<circle cx="318.5" cy="692.2" r="3.5"/>
<circle cx="313.0" cy="692.2" r="3.5"/>
<circle cx="323.7" cy="678.7" r="3.5"/>
<circle cx="409.7" cy="689.7" r="3.5"/>
<circle cx="333.9" cy="665.3" r="3.5"/>
<circle cx="365.5" cy="580.5" r="3.5"/>
<circle cx="338.3" cy="672.1" r="3.5"/>
<circle cx="343.3" cy="668.9" r="3.5"/>
<circle cx="386.6" cy="713.6" r="3.5"/>
<circle cx="392.8" cy="705.8" r="3.5"/>
<circle cx="349.8" cy="665.3" r="3.5"/>
<circle cx="350.4" cy="650.3" r="3.5"/>
<circle cx="353.7" cy="578.4" r="3.5"/>
<circle cx="348.2" cy="664.7" r="3.5"/>
<circle cx="325.1" cy="659.7" r="3.5"/>
<circle cx="378.8" cy="664.1" r="3.5"/>
<circle cx="352.8" cy="573.0" r="3.5"/>
<circle cx="378.9" cy="657.0" r="3.5"/>
<circle cx="390.9" cy="694.3" r="3.5"/>
<circle cx="361.0" cy="638.5" r="3.5"/>
<circle cx="383.2" cy="648.5" r="3.5"/>
<circle cx="368.2" cy="644.0" r="3.5"/>
<circle cx="367.5" cy="708.9" r="3.5"/>
<circle cx="328.7" cy="660.0" r="3.5"/>
<circle cx="382.4" cy="680.8" r="3.5"/>
<circle cx="327.5" cy="562.7" r="3.5"/>
<circle cx="391.0" cy="753.8" r="3.5"/>
<circle cx="393.4" cy="717.5" r="3.5"/>
<circle cx="337.9" cy="627.0" r="3.5"/>
<circle cx="392.2" cy="628.6" r="3.5"/>
<circle cx="335.5" cy="625.7" r="3.5"/>
<circle cx="368.5" cy="631.8" r="3.5"/>
<circle cx="407.4" cy="674.7" r="3.5"/>
<circle cx="321.1" cy="727.3" r="3.5"/>
<circle cx="339.2" cy="675.3" r="3.5"/>
<circle cx="359.7" cy="652.2" r="3.5"/>
<circle cx="371.9" cy="635.4" r="3.5"/>
<circle cx="314.6" cy="619.6" r="3.5"/>
<circle cx="359.4" cy="671.2" r="3.5"/>
<circle cx="380.2" cy="679.0" r="3.5"/>
<circle cx="331.6" cy="625.9" r="3.5"/>
<circle cx="377.7" cy="699.5" r="3.5"/>
<circle cx="355.8" cy="658.6" r="3.5"/>
<circle cx="393.9" cy="676.6" r="3.5"/>
<circle cx="386.8" cy="704.2" r="3.5"/>
</g>
<path d="M331 648.5 V655.8" stroke="#1e9e60" stroke-width="2"/>
<path d="M329.4 658.7 V666.7" stroke="#d94020" stroke-width="2.2"/>
<path d="M108 448 L604 873" stroke="#000" stroke-width="2.3"/>
<g stroke="#000" fill="none">
<path d="M100.2 448 H605 M604 443 V874 M108 446.2 V874 M100.2 873 H605" stroke-width="2.3"/>
<path d="M142.8 448 V440.4 M213.6 448 V440.4 M108 518.9 H100.2 M284.4 448 V440.4 M108 589.7 H100.2 M355.2 448 V440.4 M108 660.5 H100.2 M426.0 448 V440.4 M108 731.3 H100.2 M496.8 448 V440.4 M108 802.1 H100.2 M567.6 448 V440.4 M178.2 448 V443 M108 483.5 H103 M249.0 448 V443 M108 554.3 H103 M319.8 448 V443 M108 625.1 H103 M390.6 448 V443 M108 695.9 H103 M461.4 448 V443 M108 766.7 H103 M532.2 448 V443 M108 837.5 H103" stroke-width="1.7"/>
</g>
<text x="142.8" y="438" font-size="10.6" font-weight="bold" text-anchor="middle" fill="#000" stroke="#000" stroke-width="0.2">3</text>
<text x="99.2" y="451.4" font-size="10.6" font-weight="bold" text-anchor="end" fill="#000" stroke="#000" stroke-width="0.2">3</text>
<text x="213.6" y="438" font-size="10.6" font-weight="bold" text-anchor="middle" fill="#000" stroke="#000" stroke-width="0.2">2</text>
<text x="99.2" y="522.2" font-size="10.6" font-weight="bold" text-anchor="end" fill="#000" stroke="#000" stroke-width="0.2">2</text>
<text x="284.4" y="438" font-size="10.6" font-weight="bold" text-anchor="middle" fill="#000" stroke="#000" stroke-width="0.2">1</text>
<text x="99.2" y="593.0" font-size="10.6" font-weight="bold" text-anchor="end" fill="#000" stroke="#000" stroke-width="0.2">1</text>
<text x="355.2" y="438" font-size="10.6" font-weight="bold" text-anchor="middle" fill="#000" stroke="#000" stroke-width="0.2">0</text>
<text x="99.2" y="663.8" font-size="10.6" font-weight="bold" text-anchor="end" fill="#000" stroke="#000" stroke-width="0.2">0</text>
<text x="426.0" y="438" font-size="10.6" font-weight="bold" text-anchor="middle" fill="#000" stroke="#000" stroke-width="0.2">-1</text>
<text x="99.2" y="734.6" font-size="10.6" font-weight="bold" text-anchor="end" fill="#000" stroke="#000" stroke-width="0.2">-1</text>
<text x="496.8" y="438" font-size="10.6" font-weight="bold" text-anchor="middle" fill="#000" stroke="#000" stroke-width="0.2">-2</text>
<text x="99.2" y="805.4" font-size="10.6" font-weight="bold" text-anchor="end" fill="#000" stroke="#000" stroke-width="0.2">-2</text>
<text x="567.6" y="438" font-size="10.6" font-weight="bold" text-anchor="middle" fill="#000" stroke="#000" stroke-width="0.2">-3</text>
<text x="99.2" y="876.2" font-size="10.6" font-weight="bold" text-anchor="end" fill="#000" stroke="#000" stroke-width="0.2">-3</text>
<circle cx="369.4" cy="471.5" r="5.7" fill="#1a9393" stroke="#050505" stroke-width="1.9"/>
<circle cx="448.2" cy="536.2" r="5.7" fill="#1a9393" stroke="#050505" stroke-width="1.9"/>
<circle cx="440.1" cy="558.8" r="5.7" fill="#1a9393" stroke="#050505" stroke-width="1.9"/>
<circle cx="430.9" cy="569.8" r="5.7" fill="#1a9393" stroke="#050505" stroke-width="1.9"/>
<circle cx="397.8" cy="572.7" r="5.7" fill="#1a9393" stroke="#050505" stroke-width="1.9"/>
<circle cx="397.8" cy="568.2" r="5.7" fill="#1a9393" stroke="#050505" stroke-width="1.9"/>
<circle cx="397.8" cy="563.8" r="5.7" fill="#1a9393" stroke="#050505" stroke-width="1.9"/>
<circle cx="436.1" cy="592.7" r="5.7" fill="#1a9393" stroke="#050505" stroke-width="1.9"/>
<circle cx="366.8" cy="606" r="5.7" fill="#1a9393" stroke="#050505" stroke-width="1.9"/>
<circle cx="391.5" cy="607.8" r="5.7" fill="#1a9393" stroke="#050505" stroke-width="1.9"/>
<circle cx="368.1" cy="619.1" r="5.7" fill="#1a9393" stroke="#050505" stroke-width="1.9"/>
<circle cx="439.8" cy="618.3" r="5.7" fill="#1a9393" stroke="#050505" stroke-width="1.9"/>
<circle cx="448.2" cy="611.2" r="5.7" fill="#1a9393" stroke="#050505" stroke-width="1.9"/>
<circle cx="436.1" cy="608.6" r="5.7" fill="#1a9393" stroke="#050505" stroke-width="1.9"/>
<circle cx="479" cy="612" r="5.7" fill="#1a9393" stroke="#050505" stroke-width="1.9"/>
<circle cx="455.3" cy="634.9" r="5.7" fill="#1a9393" stroke="#050505" stroke-width="1.9"/>
<circle cx="448.1" cy="654.1" r="5.7" fill="#1a9393" stroke="#050505" stroke-width="1.9"/>
<circle cx="478.8" cy="662.4" r="5.7" fill="#1a9393" stroke="#050505" stroke-width="1.9"/>
<circle cx="382.3" cy="673.5" r="5.7" fill="#1a9393" stroke="#050505" stroke-width="1.9"/>
<circle cx="415.1" cy="673.5" r="5.7" fill="#1a9393" stroke="#050505" stroke-width="1.9"/>
<circle cx="425.4" cy="676.7" r="5.7" fill="#1a9393" stroke="#050505" stroke-width="1.9"/>
<circle cx="415.1" cy="703.5" r="5.7" fill="#1a9393" stroke="#050505" stroke-width="1.9"/>
<circle cx="436.1" cy="704.3" r="5.7" fill="#1a9393" stroke="#050505" stroke-width="1.9"/>
<circle cx="436.1" cy="722.1" r="5.7" fill="#1a9393" stroke="#050505" stroke-width="1.9"/>
<circle cx="478.6" cy="715.8" r="5.7" fill="#1a9393" stroke="#050505" stroke-width="1.9"/>
<circle cx="478.6" cy="711" r="5.7" fill="#1a9393" stroke="#050505" stroke-width="1.9"/>
<circle cx="595.3" cy="716.7" r="5.7" fill="#1a9393" stroke="#050505" stroke-width="1.9"/>
<circle cx="595.3" cy="709.9" r="5.7" fill="#1a9393" stroke="#050505" stroke-width="1.9"/>
<circle cx="595.3" cy="691.5" r="5.7" fill="#1a9393" stroke="#050505" stroke-width="1.9"/>
<circle cx="595.2" cy="762.1" r="5.7" fill="#1a9393" stroke="#050505" stroke-width="1.9"/>
<circle cx="322.4" cy="718.7" r="5.7" fill="#1a9393" stroke="#050505" stroke-width="1.9"/>
<circle cx="391.7" cy="743.1" r="5.7" fill="#1a9393" stroke="#050505" stroke-width="1.9"/>
<circle cx="456.1" cy="800.6" r="5.7" fill="#1a9393" stroke="#050505" stroke-width="1.9"/>
<text x="327.1" y="477" font-size="11.75" font-weight="bold" font-style="italic" text-anchor="start" fill="#000" stroke="#000" stroke-width="0.22" textLength="25.0" lengthAdjust="spacingAndGlyphs">IspG</text>
<text x="456.6" y="531.5" font-size="11.75" font-weight="bold" font-style="italic" text-anchor="start" fill="#000" stroke="#000" stroke-width="0.22" textLength="28.1" lengthAdjust="spacingAndGlyphs">LeuC</text>
<text x="361.5" y="551.7" font-size="11.75" font-weight="bold" font-style="italic" text-anchor="start" fill="#000" stroke="#000" stroke-width="0.22" textLength="24.4" lengthAdjust="spacingAndGlyphs">IspH</text>
<text x="361.5" y="563.5" font-size="11.75" font-weight="bold" font-style="italic" text-anchor="start" fill="#000" stroke="#000" stroke-width="0.22" textLength="24.4" lengthAdjust="spacingAndGlyphs">IspH</text>
<text x="361.5" y="574.8" font-size="11.75" font-weight="bold" font-style="italic" text-anchor="start" fill="#000" stroke="#000" stroke-width="0.22" textLength="24.4" lengthAdjust="spacingAndGlyphs">IspH</text>
<text x="361.5" y="586.1" font-size="11.75" font-weight="bold" font-style="italic" text-anchor="start" fill="#000" stroke="#000" stroke-width="0.22" textLength="24.4" lengthAdjust="spacingAndGlyphs">IspH</text>
<text x="406.2" y="552" font-size="11.75" font-weight="bold" font-style="italic" text-anchor="start" fill="#000" stroke="#000" stroke-width="0.22" textLength="31.9" lengthAdjust="spacingAndGlyphs">FumA</text>
<text x="441.4" y="573.5" font-size="11.75" font-weight="bold" font-style="italic" text-anchor="start" fill="#000" stroke="#000" stroke-width="0.22" textLength="29.4" lengthAdjust="spacingAndGlyphs">AcnB</text>
<text x="443.8" y="589.3" font-size="11.75" font-weight="bold" font-style="italic" text-anchor="start" fill="#000" stroke="#000" stroke-width="0.22" textLength="30.0" lengthAdjust="spacingAndGlyphs">RimO</text>
<text x="398.8" y="595" font-size="11.75" font-weight="bold" font-style="italic" text-anchor="start" fill="#000" stroke="#000" stroke-width="0.22" textLength="30.0" lengthAdjust="spacingAndGlyphs">RimO</text>
<text x="328.5" y="610.2" font-size="11.75" font-weight="bold" font-style="italic" text-anchor="start" fill="#000" stroke="#000" stroke-width="0.22" textLength="22.5" lengthAdjust="spacingAndGlyphs">PflA</text>
<text x="328.5" y="622.6" font-size="11.75" font-weight="bold" font-style="italic" text-anchor="start" fill="#000" stroke="#000" stroke-width="0.22" textLength="23.7" lengthAdjust="spacingAndGlyphs">GltB</text>
<text x="398.8" y="609.9" font-size="11.75" font-weight="bold" font-style="italic" text-anchor="start" fill="#000" stroke="#000" stroke-width="0.22" textLength="25.0" lengthAdjust="spacingAndGlyphs">TtcA</text>
<text x="399.6" y="625.2" font-size="11.75" font-weight="bold" font-style="italic" text-anchor="start" fill="#000" stroke="#000" stroke-width="0.22" textLength="31.9" lengthAdjust="spacingAndGlyphs">FumA</text>
<text x="450.3" y="603.6" font-size="11.75" font-weight="bold" font-style="italic" text-anchor="start" fill="#000" stroke="#000" stroke-width="0.22" textLength="28.1" lengthAdjust="spacingAndGlyphs">LeuC</text>
<text x="485.5" y="623.9" font-size="11.75" font-weight="bold" font-style="italic" text-anchor="start" fill="#000" stroke="#000" stroke-width="0.22" textLength="26.2" lengthAdjust="spacingAndGlyphs">BioB</text>
<text x="419.3" y="639.6" font-size="11.75" font-weight="bold" font-style="italic" text-anchor="start" fill="#000" stroke="#000" stroke-width="0.22" textLength="26.9" lengthAdjust="spacingAndGlyphs">ErpA</text>
<text x="457.2" y="653.6" font-size="11.75" font-weight="bold" font-style="italic" text-anchor="start" fill="#000" stroke="#000" stroke-width="0.22" textLength="28.1" lengthAdjust="spacingAndGlyphs">LeuC</text>
<text x="488.9" y="664.8" font-size="11.75" font-weight="bold" font-style="italic" text-anchor="start" fill="#000" stroke="#000" stroke-width="0.22" textLength="26.2" lengthAdjust="spacingAndGlyphs">BioB</text>
<text x="392" y="663.8" font-size="11.75" font-weight="bold" font-style="italic" text-anchor="start" fill="#000" stroke="#000" stroke-width="0.22" textLength="23.8" lengthAdjust="spacingAndGlyphs">CysI</text>
<text x="435" y="680.8" font-size="11.75" font-weight="bold" font-style="italic" text-anchor="start" fill="#000" stroke="#000" stroke-width="0.22" textLength="30.6" lengthAdjust="spacingAndGlyphs">NuoG</text>
<text x="396.2" y="692.4" font-size="11.75" font-weight="bold" font-style="italic" text-anchor="start" fill="#000" stroke="#000" stroke-width="0.22" textLength="23.8" lengthAdjust="spacingAndGlyphs">CysI</text>
<text x="361" y="700.6" font-size="11.75" font-weight="bold" font-style="italic" text-anchor="start" fill="#000" stroke="#000" stroke-width="0.22" textLength="27.5" lengthAdjust="spacingAndGlyphs">GrxD</text>
<text x="443.3" y="698.7" font-size="11.75" font-weight="bold" font-style="italic" text-anchor="start" fill="#000" stroke="#000" stroke-width="0.22" textLength="30.0" lengthAdjust="spacingAndGlyphs">RimO</text>
<text x="487.7" y="708.8" font-size="11.75" font-weight="bold" font-style="italic" text-anchor="start" fill="#000" stroke="#000" stroke-width="0.22" textLength="26.2" lengthAdjust="spacingAndGlyphs">BioB</text>
<text x="487.7" y="719.6" font-size="11.75" font-weight="bold" font-style="italic" text-anchor="start" fill="#000" stroke="#000" stroke-width="0.22" textLength="26.2" lengthAdjust="spacingAndGlyphs">BioB</text>
<text x="487.7" y="732.2" font-size="11.75" font-weight="bold" font-style="italic" text-anchor="start" fill="#000" stroke="#000" stroke-width="0.22" textLength="26.2" lengthAdjust="spacingAndGlyphs">BioB</text>
<text x="443.7" y="732.2" font-size="11.75" font-weight="bold" font-style="italic" text-anchor="start" fill="#000" stroke="#000" stroke-width="0.22" textLength="30.0" lengthAdjust="spacingAndGlyphs">RimO</text>
<text x="586.1" y="685.5" font-size="11.75" font-weight="bold" font-style="italic" text-anchor="end" fill="#000" stroke="#000" stroke-width="0.22" textLength="26.9" lengthAdjust="spacingAndGlyphs">MiaB</text>
<text x="586.1" y="705.2" font-size="11.75" font-weight="bold" font-style="italic" text-anchor="end" fill="#000" stroke="#000" stroke-width="0.22" textLength="26.9" lengthAdjust="spacingAndGlyphs">MiaB</text>
<text x="586.1" y="718.6" font-size="11.75" font-weight="bold" font-style="italic" text-anchor="end" fill="#000" stroke="#000" stroke-width="0.22" textLength="26.9" lengthAdjust="spacingAndGlyphs">MiaB</text>
<text x="586.1" y="728.3" font-size="11.75" font-weight="bold" font-style="italic" text-anchor="end" fill="#000" stroke="#000" stroke-width="0.22" textLength="26.9" lengthAdjust="spacingAndGlyphs">MiaB</text>
<text x="584.2" y="766.9" font-size="11.75" font-weight="bold" font-style="italic" text-anchor="end" fill="#000" stroke="#000" stroke-width="0.22" textLength="26.9" lengthAdjust="spacingAndGlyphs">MiaB</text>
<text x="280.6" y="719.8" font-size="11.75" font-weight="bold" font-style="italic" text-anchor="start" fill="#000" stroke="#000" stroke-width="0.22" textLength="32.5" lengthAdjust="spacingAndGlyphs">EpmB</text>
<text x="397.8" y="759.1" font-size="11.75" font-weight="bold" font-style="italic" text-anchor="start" fill="#000" stroke="#000" stroke-width="0.22" textLength="23.7" lengthAdjust="spacingAndGlyphs">GltB</text>
<text x="422.5" y="793.3" font-size="11.75" font-weight="bold" font-style="italic" text-anchor="start" fill="#000" stroke="#000" stroke-width="0.22" textLength="29.4" lengthAdjust="spacingAndGlyphs">SdhB</text>
<rect x="125.3" y="788.1" width="169.3" height="55.2" fill="#fff" stroke="#000" stroke-width="2.5"/>
<circle cx="140.2" cy="801.8" r="5.8" fill="#1a9393" stroke="#0a0a0a" stroke-width="1.7"/>
<circle cx="140" cy="828.1" r="3.5" fill="#6c6c6c" fill-opacity="0.3"/>
<text x="156.6" y="806.7" font-size="14.1" font-weight="bold" fill="#000" stroke="#000" stroke-width="0.25" textLength="111.8" lengthAdjust="spacingAndGlyphs">Fe-S Cys Ligands</text>
<text x="156.6" y="833.4" font-size="14.1" font-weight="bold" fill="#000" stroke="#000" stroke-width="0.25" textLength="121" lengthAdjust="spacingAndGlyphs">Other Cys/Proteins</text>
</svg>
</body></html>
